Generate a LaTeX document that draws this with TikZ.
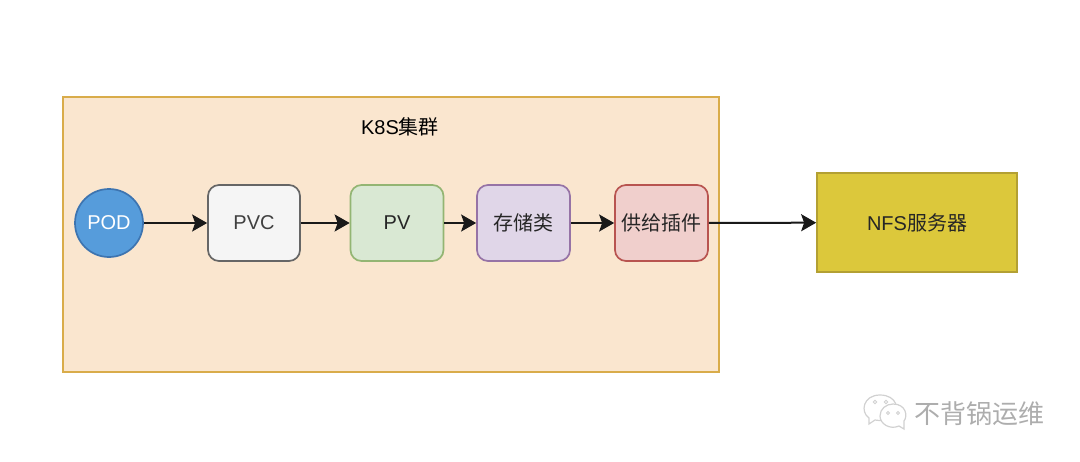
\documentclass[tikz,border=0pt]{standalone}
\usepackage{fontspec}
\setmainfont{Liberation Sans}
\newfontfamily\cjk{Noto Sans CJK SC}
\usetikzlibrary{arrows.meta}
\definecolor{clusterfill}{HTML}{FAE6CF}
\definecolor{clusterline}{HTML}{D9AC4A}
\definecolor{podfill}{HTML}{569CDB}
\definecolor{podline}{HTML}{3D74B0}
\definecolor{pvcfill}{HTML}{F5F5F5}
\definecolor{pvcline}{HTML}{666666}
\definecolor{pvfill}{HTML}{D9E8D3}
\definecolor{pvline}{HTML}{93B573}
\definecolor{classfill}{HTML}{E0D6E8}
\definecolor{classline}{HTML}{9673A6}
\definecolor{pluginfill}{HTML}{F0CFCC}
\definecolor{pluginline}{HTML}{B85450}
\definecolor{nfsfill}{HTML}{DCC83B}
\definecolor{nfsline}{HTML}{B3A033}
\tikzset{
	stage/.style={draw, rounded corners=11pt, line width=1.7pt, minimum width=92pt, minimum height=76pt, inner sep=0pt, text=black!85},
	flow/.style={-{Stealth[length=15pt, width=17pt, inset=3pt]}, line width=2pt, black!90},
	bubble/.style={draw=black!18, fill=white, line width=1.2pt},
	bubbledot/.style={draw=black!18, line width=.8pt, fill=white}
}
\begin{document}
\begin{tikzpicture}[x=1pt, y=-1pt, font=\fontsize{20pt}{24pt}\selectfont]
	\useasboundingbox (0,0) rectangle (1080,461);
	%cluster
	\node[draw=clusterline, fill=clusterfill, line width=1.7pt, minimum width=656pt, minimum height=275pt, inner sep=0pt] (cluster) at (391,234.5) {};
	\node (clustertitle) at (400,127) {K8S{\cjk 集群}};
	%stages
	\node[circle, draw=podline, fill=podfill, line width=1.7pt, minimum size=68pt, inner sep=0pt, text=white] (pod) at (109,223) {POD};
	\node[stage, draw=pvcline, fill=pvcfill, text=black!75] (pvc) at (254,223) {PVC};
	\node[stage, draw=pvline, fill=pvfill, minimum width=93pt] (pv) at (397,223) {PV};
	\node[stage, draw=classline, fill=classfill, minimum width=93pt] (class) at (523.5,223) {\cjk 存储类};
	\node[stage, draw=pluginline, fill=pluginfill, minimum width=93pt] (plugin) at (661.5,223) {\cjk 供给插件};
	\node[draw=nfsline, fill=nfsfill, line width=1.7pt, minimum width=200pt, minimum height=99pt, inner sep=0pt, text=black!85] (nfs) at (917,222.5) {NFS{\cjk 服务器}};
	%arrows
	\draw[flow] (pod) -- (pvc);
	\draw[flow] (pvc) -- (pv);
	\draw[flow] (pv) -- (class);
	\draw[flow] (class) -- (plugin);
	\draw[flow] (plugin) -- (nfs);
	%watermark
	\draw[bubble] (869,418) .. controls (860,412) and (863,395) .. (880,395) .. controls (897,395) and (900,410) .. (893,416) .. controls (888,421) and (880,421) .. (875,420) -- (869,424) -- cycle;
	\draw[bubbledot] (875,402) circle (1.8pt) (886,402) circle (1.8pt);
	\draw[bubble] (893,404) .. controls (906,404) and (908,416) .. (904,421) -- (904,429) -- (899,426) .. controls (890,430) and (880,424) .. (880,416) .. controls (880,409) and (886,404) .. (893,404) -- cycle;
	\draw[bubbledot] (888,413) circle (1.5pt) (898,413) circle (1.5pt);
	\node[inner sep=0pt, text=black!32, font=\fontsize{26pt}{30pt}\cjk] (mark) at (979,414) {不背锅运维};
\end{tikzpicture}
\end{document}
